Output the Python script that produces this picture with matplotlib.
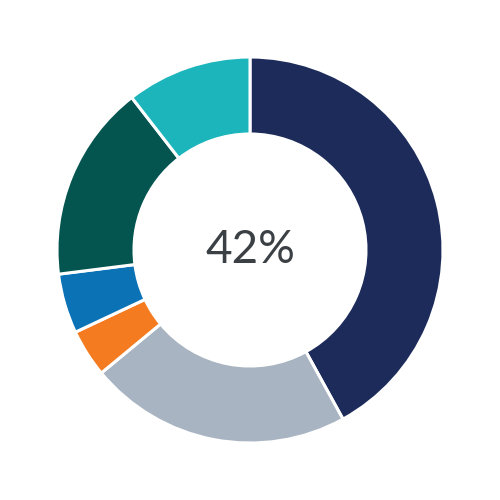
import matplotlib
matplotlib.use("Agg")
import matplotlib.pyplot as plt

labels = ["Navy", "Gray", "Orange", "Blue", "Teal", "Cyan"]
values = [42, 22, 4, 5, 16.5, 10.5]
colors = ["#1c2b5a", "#a9b4c2", "#f47b20", "#0a72b5", "#04544f", "#1bb5bb"]
center_label = "42%"

fig = plt.figure(figsize=(5, 5), dpi=100)
ax = fig.add_axes([0, 0, 1, 1])
ax.pie(values, colors=colors, startangle=90, counterclock=False, radius=193,
       wedgeprops=dict(width=77, edgecolor="white", linewidth=2.2))
ax.set_xlim(-250, 250)
ax.set_ylim(-250, 250)
ax.set_aspect("equal")
ax.axis("off")
ax.text(0, 0, center_label, ha="center", va="center", fontsize=33,
        family="Lato", fontweight="normal", color="#3b4045")
fig.savefig("out.png", dpi=100)
